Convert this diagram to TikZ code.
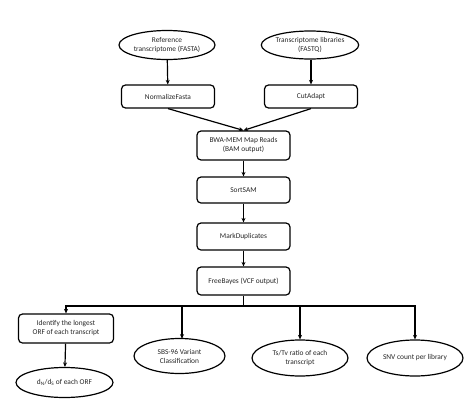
\documentclass[tikz,border=0pt]{standalone}
\usepackage{fontspec}
\setmainfont{Carlito}
\usetikzlibrary{shapes.geometric,arrows.meta}
\begin{document}
\begin{tikzpicture}[x=1pt,y=-1pt,
  every node/.style={font=\fontsize{7.4}{9}\selectfont, text=black!85, align=center},
  procbox/.style={draw, line width=1.2pt, rounded corners=4pt, minimum width=93pt, inner sep=1pt},
  oval/.style={draw, ellipse, line width=1.2pt, inner sep=0pt},
  flow/.style={line width=1.2pt, -{Stealth[length=4.5pt,width=4pt]}},
  plain/.style={line width=1.2pt}]
\useasboundingbox (0,0) rectangle (474,410);
\node[oval, minimum width=96pt, minimum height=29pt] (ref) at (167,45) {Reference\\transcriptome (FASTA)};
\node[oval, minimum width=95pt, minimum height=28pt] (lib) at (310,45) {Transcriptome libraries\\(FASTQ)};
\node[procbox, minimum height=23pt] (norm) at (168,96.5) {NormalizeFasta};
\node[procbox, minimum height=23pt] (cut) at (311,96.5) {CutAdapt};
\node[procbox, minimum height=29pt] (bwa) at (243.5,145.5) {BWA-MEM Map Reads\\(BAM output)};
\node[procbox, minimum height=26pt] (sort) at (243.5,190) {SortSAM};
\node[procbox, minimum height=27pt] (mark) at (243.5,236.5) {MarkDuplicates};
\node[procbox, minimum height=28pt] (free) at (243.5,281) {FreeBayes (VCF output)};
\node[procbox, minimum width=95pt, minimum height=29pt] (orf) at (66,328.5) {Identify the longest\\ORF of each transcript};
\node[oval, minimum width=97pt, minimum height=30pt] (dnds) at (64.5,382.5) {d\textsubscript{N}/d\textsubscript{S} of each ORF};
\node[oval, minimum width=91pt, minimum height=35pt] (sbs) at (179.5,356) {SBS-96 Variant\\Classification};
\node[oval, minimum width=96pt, minimum height=36pt] (tstv) at (300,358) {Ts/Tv ratio of each\\transcript};
\node[oval, minimum width=96pt, minimum height=36pt] (snv) at (415,358) {SNV count per library};
\coordinate (hub) at (free.south |- 0,306);
\coordinate (sbsdrop) at (182,306);
\coordinate (tstvdrop) at (300,306);
\draw[flow] (ref) -- (norm);
\draw[flow] (lib.south -| cut.north) -- (cut);
\draw[flow] (norm.south) -- (bwa.north);
\draw[flow] (cut.south) -- (bwa.north);
\draw[flow] (bwa) -- (sort);
\draw[flow] (sort) -- (mark);
\draw[flow] (mark) -- (free);
\draw[plain] (free.south) -- (hub);
\draw[flow] (hub) -| (orf.north);
\draw[flow] (hub) -| (snv.north);
\draw[flow] (sbsdrop) -- (sbsdrop |- 0,338.7);
\draw[flow] (tstvdrop) -- (tstv.north);
\draw[flow] (orf) -- (dnds);
\end{tikzpicture}
\end{document}
